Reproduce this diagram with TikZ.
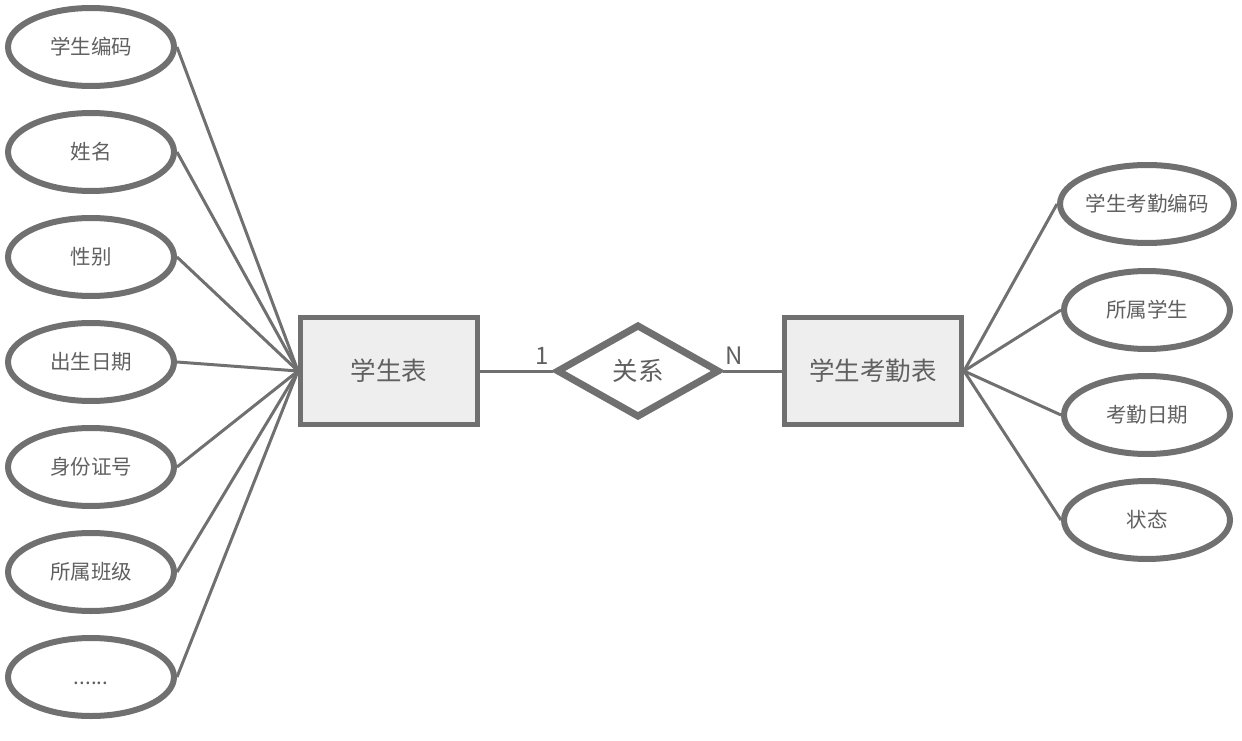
\documentclass[tikz,border=0pt]{standalone}
\usepackage{fontspec}
\setmainfont{Noto Sans CJK SC}
\usetikzlibrary{shapes.geometric, positioning}
\definecolor{cLine}{RGB}{112,112,112}
\definecolor{cText}{RGB}{96,96,96}
\definecolor{cFill}{RGB}{238,238,238}
\newcommand{\moredots}{\vphantom{学}......}
\tikzset{
	entity/.style ={rectangle, draw=cLine, line width=5pt, fill=cFill, minimum width=177pt, minimum height=107pt, text=cText, font=\fontsize{25.5}{29}\selectfont},
	attr/.style   ={ellipse, draw=cLine, line width=6pt, fill=white, minimum width=166pt, minimum height=78pt, inner sep=0pt, text=cText, font=\fontsize{20.5}{24}\selectfont},
	relship/.style={diamond, draw=cLine, line width=7pt, fill=white, minimum width=163pt, minimum height=93pt, inner sep=0pt, text=cText, font=\fontsize{25.5}{29}\selectfont},
	link/.style   ={draw=cLine, line width=3pt},
	card/.style   ={text=cText, font=\fontsize{24}{27}\selectfont, inner sep=1pt},
}

\begin{document}
\begin{tikzpicture}[x=1pt, y=-1pt]
	\useasboundingbox (0,0) rectangle (1242,741);
	\node[entity] (stu) at (389,371) {学生表};
	\node[relship] (rel) at (638,371) {关系};
	\node[entity] (att) at (873,371) {学生考勤表};
	% student attributes
	\foreach \nm/\txt [count=\i] in {sid/学生编码, sname/姓名, sex/性别, birth/出生日期, idno/身份证号, cls/所属班级, more/\moredots}{
		\node[attr] (\nm) at (91,{47+105*(\i-1)}) {\txt};
		\draw[link] (\nm.east) -- (stu.west);
	}
	% attendance attributes
	\foreach \nm/\txt/\y in {aid/学生考勤编码/204, astu/所属学生/310, adate/考勤日期/415, state/状态/520}{
		\node[attr] (\nm) at (1147,\y) {\txt};
		\draw[link] (\nm.west) -- (att.east);
	}
	\draw[link] (stu.east) -- node[card, pos=0.85, above=4pt] {1} (rel.west);
	\draw[link] (rel.east) -- node[card, pos=0.19, above=4pt] {N} (att.west);
\end{tikzpicture}
\end{document}
